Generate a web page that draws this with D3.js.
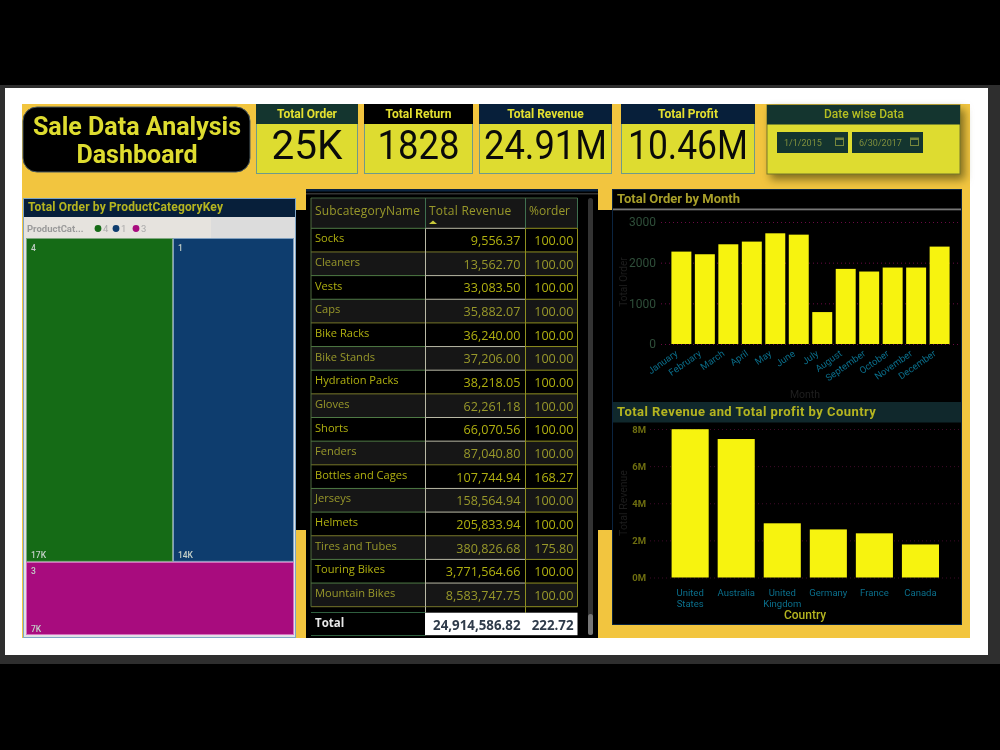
<!DOCTYPE html>
<html><head><meta charset="utf-8">
<script src="https://cdn.jsdelivr.net/npm/d3@7"></script>
<style>
html,body{margin:0;padding:0;background:#000;overflow:hidden}
svg{display:block;filter:blur(0.45px)}
text{font-family:Roboto,sans-serif}
.tb text{font-family:"Open Sans",sans-serif}
</style></head><body><div id="c"></div>
<script>
const kpiNames=["Total Order","Total Return","Total Revenue","Total Profit"];
const kpiValues=["25K","1828","24.91M","10.46M"];
const dates=["1/1/2015","6/30/2017"];
const catKeys=["4","1","3"];
const catOrders=[17000,14000,7000];
const catLabels=["17K","14K","7K"];
const tableCols=["SubcategoryName","Total Revenue","%order"];
const subNames=["Socks","Cleaners","Vests","Caps","Bike Racks","Bike Stands","Hydration Packs","Gloves","Shorts","Fenders","Bottles and Cages","Jerseys","Helmets","Tires and Tubes","Touring Bikes","Mountain Bikes"];
const subRevenue=[9556.37,13562.70,33083.50,35882.07,36240.00,37206.00,38218.05,62261.18,66070.56,87040.80,107744.94,158564.94,205833.94,380826.68,3771564.66,8583747.75];
const subOrder=[100,100,100,100,100,100,100,100,100,100,168.27,100,100,175.80,100,100];
const totalRow=["Total","24,914,586.82","222.72"];
const months=["January","February","March","April","May","June","July","August","September","October","November","December"];
const monthOrders=[2272,2207,2452,2518,2722,2689,785,1847,1782,1880,1880,2395];
const orderTicks=[0,1000,2000,3000];
const countries=["United States","Australia","United Kingdom","Germany","France","Canada"];
const countryRevenue=[7990000,7460000,2920000,2590000,2380000,1780000];
const revenueTicks=[0,2e6,4e6,6e6,8e6];

const svg=d3.select("#c").append("svg").attr("width",1000).attr("height",750);
const rect=(g,x,y,w,h,f,s,sw)=>g.append("rect").attr("x",x).attr("y",y).attr("width",w).attr("height",h).attr("fill",f).attr("stroke",s||"none").attr("stroke-width",sw||0);
const text=(g,x,y,t,size,fill,opt={})=>g.append("text").attr("x",x).attr("y",y).text(t).attr("font-size",size).attr("fill",fill)
  .attr("font-weight",opt.w||400).attr("text-anchor",opt.a||"start").attr("letter-spacing",opt.ls||null);

// page frame
rect(svg,0,0,1000,750,"#000");
rect(svg,0,85,1000,579,"#2e2e2e");
rect(svg,5,88,983,567,"#fff");
rect(svg,22,104,948,534,"#f2c53f");
rect(svg,296,210,316,320,"#000");

// title
svg.append("rect").attr("x",23).attr("y",107).attr("width",227).attr("height",65).attr("rx",14).attr("fill","#000").attr("stroke","#4a5a60");
text(svg,137,135,"Sale Data Analysis",25,"#dedc30",{a:"middle",w:700});
text(svg,137,163,"Dashboard",25,"#dedc30",{a:"middle",w:700});

// KPI cards
const kpiX=[[256,358],[364,473],[479,612],[621,755]];
const kpiHead=["#14352f","#000","#071f3a","#071f3a"];
const kpiTextW=[71,82,123,120];
kpiNames.forEach((n,i)=>{
  const [a,b]=kpiX[i];
  rect(svg,a+.5,104.5,b-a-1,69,"#dedc30","#6f9a8a",1);
  rect(svg,a,104,b-a,20,kpiHead[i]);
  text(svg,(a+b)/2,118,n,12,"#e4e030",{a:"middle",w:700});
  text(svg,(a+b)/2,159,kpiValues[i],41,"#0a0a0a",{a:"middle"})
    .attr("textLength",kpiTextW[i]).attr("lengthAdjust","spacingAndGlyphs");
});

// date card
const dg=svg.append("g");
dg.append("rect").attr("x",767).attr("y",105).attr("width",193).attr("height",69).attr("fill","#dedc30").attr("stroke","#77772a")
  .style("filter","drop-shadow(4px 5px 4px rgba(90,80,20,.75))");
rect(dg,767,105,193,19.5,"#14352f");
text(dg,864,118,"Date wise Data",12,"#b6bf22",{a:"middle",w:500});
[[777,71],[852,71]].forEach(([x,w],i)=>{
  rect(dg,x,132,w,21,"#14352f");
  text(dg,x+7,145.5,dates[i],9,"#7f8f3c");
  rect(dg,x+58.5,138,8,7.5,"none","#77873c",1);
  rect(dg,x+58.5,138,8,2,"#77873c");
});

// treemap panel
const tp=svg.append("g");
rect(tp,23.5,198.5,272,439,"#dfe3e6","#7fa5c5",1);
rect(tp,24,199,271,18,"#071f3a");
text(tp,28,211,"Total Order by ProductCategoryKey",12,"#b5b520",{w:700,ls:0.15});
rect(tp,24,217,187,21,"#e6e3de");
rect(tp,211,217,84,21,"#dcdcdc");
text(tp,27,232,"ProductCat...",9.5,"#9a9a9a",{w:700});
const catColors=["#156b16","#0e3d6e","#a80c7e"];
const catStrokes=["#7fa87f","#7f9fbf","#d870c0"];
const legendX=[98,116,136];
catKeys.forEach((k,i)=>{
  tp.append("circle").attr("cx",legendX[i]).attr("cy",228.5).attr("r",3.4).attr("fill",catColors[i]);
  text(tp,legendX[i]+5,232,k,9.5,"#aaa");
});
const root=d3.hierarchy({children:[{children:[0,1].map(i=>({i,v:catOrders[i]}))},{i:2,v:catOrders[2]}]}).sum(d=>d.v||0);
d3.treemap().size([267,396]).paddingInner(1).round(false)
  .tile((n,x0,y0,x1,y1)=>(n.depth&1?d3.treemapDice:d3.treemapSlice)(n,x0,y0,x1,y1))(root);
const tg=tp.append("g").attr("transform","translate(26.5,238.5)");
root.leaves().forEach(l=>{
  const i=l.data.i;
  rect(tg,l.x0,l.y0,l.x1-l.x0,l.y1-l.y0,catColors[i],catStrokes[i],1);
  text(tg,l.x0+4.5,l.y0+12,catKeys[i],8.5,"#c4d0c8",{w:500});
  text(tg,l.x0+4.5,l.y1-3,catLabels[i],8.5,"#c4d0c8",{w:500});
});

// table panel
const tb=svg.append("g").attr("class","tb");
rect(tb,306,189,292,449,"#000");
rect(tb,306,189,292,2.5,"#0b2440");
rect(tb,306,193,292,1.5,"#333");
const colX=[311,425.5,525.5,577.5];
const rowH=23.65,rowTop=228.3;
const fmt=d3.format(",.2f");
rect(tb,311,198,266.5,30.3,"#161616");
const headCol="#98982a";
text(tb,315,215,tableCols[0],12,headCol,{ls:0.15});
text(tb,429,215,tableCols[1],12,headCol,{ls:0.25});
text(tb,529,215,tableCols[2],12,headCol);
tb.append("path").attr("d",d3.line()([[429,224],[433,220.5],[437,224]])+"Z").attr("fill","#c8c83a");
subNames.forEach((n,i)=>{
  const y=rowTop+i*rowH,odd=i%2==0;
  rect(tb,311,y,266.5,rowH,odd?"#000":"#161616");
  const c=odd?"#b0b010":"#98982a";
  text(tb,315,y+14,n,11.1,c,{w:500});
  text(tb,520.5,y+16.8,fmt(subRevenue[i]),12.6,c,{a:"end"});
  text(tb,573.5,y+16.8,fmt(subOrder[i]),12.6,c,{a:"end"});
});
const hLine=(x1,x2,y,c,w)=>tb.append("line").attr("x1",x1).attr("x2",x2).attr("y1",y).attr("y2",y).attr("stroke",c).attr("stroke-width",w||1);
const vLine=(x,y1,y2,c,w)=>tb.append("line").attr("x1",x).attr("x2",x).attr("y1",y1).attr("y2",y2).attr("stroke",c).attr("stroke-width",w||1);
d3.range(0,17).forEach(i=>{
  const y=rowTop+i*rowH;
  hLine(colX[0],colX[1],y,i%3==1?"#77772a":"#4f7a45");
  hLine(colX[1],colX[2],y,i%3==1?"#77772a":"#b9b9a5");
  hLine(colX[2],colX[3],y,"#8f8f20");
});
hLine(311,577.5,198,"#3f5f3f");
vLine(311,198,606.7,"#4f6a3f");
vLine(colX[1],198,228,"#3f6f4f");vLine(colX[2],198,228,"#3f6f4f");vLine(colX[3],198,228,"#3f6f4f");
vLine(colX[1],228.3,606.7,"#b9b9a5");
vLine(colX[2],228.3,606.7,"#8f8f20");
vLine(colX[3],228.3,606.7,"#8f8f20");
vLine(colX[1],606.7,612.7,"#b9b9a5");vLine(colX[2],606.7,612.7,"#8f8f20");
hLine(311,colX[1],612.5,"#2f5f3f");hLine(311,colX[1],635.5,"#2f5f3f");
rect(tb,425,612.7,152.5,22.5,"#fff");
text(tb,315,627,totalRow[0],11.5,"#e8e8e8",{w:700});
text(tb,520.5,630,totalRow[1],13.3,"#2f3b4a",{a:"end",w:700});
text(tb,573.5,630,totalRow[2],13.3,"#2f3b4a",{a:"end",w:700});
tb.append("rect").attr("x",588).attr("y",198).attr("width",5).attr("height",437).attr("rx",2.5).attr("fill","#333");
tb.append("rect").attr("x",588).attr("y",614).attr("width",5).attr("height",21).attr("rx",2.5).attr("fill","#777");

// Total Order by Month
const c1=svg.append("g");
rect(c1,612.5,189.5,349,213,"#000","#0b2440",1);
text(c1,617,203,"Total Order by Month",13,"#a89f2a",{w:700});
rect(c1,613,208.5,348,1.8,"#777");
const x1=d3.scaleBand().domain(months).range([670,951]).paddingInner(0.15).paddingOuter(0.06);
const y1=d3.scaleLinear().domain([0,3000]).range([344,222]);
const g1=c1.append("g").attr("transform","translate(661,0)");
g1.call(d3.axisLeft(y1).tickValues(orderTicks).tickFormat(d3.format("d")).tickSize(-297).tickPadding(5));
g1.select(".domain").remove();
g1.selectAll("line").attr("stroke","#6a0a44").attr("stroke-dasharray","1 3");
g1.selectAll("text").attr("fill","#2f4f3a").attr("font-size",12);
c1.selectAll("rect.b").data(months).join("rect").attr("class","b").attr("x",d=>x1(d)).attr("width",x1.bandwidth())
  .attr("y",(d,i)=>y1(monthOrders[i])).attr("height",(d,i)=>y1(0)-y1(monthOrders[i])).attr("fill","#f7f30f");
const a1=c1.append("g").attr("transform","translate(0,344)").call(d3.axisBottom(x1).tickSize(0).tickPadding(0));
a1.select(".domain").remove();
a1.selectAll("text").attr("fill","#0a6f8c").attr("font-size",9.5).attr("text-anchor","end").attr("y",0).attr("dy",null)
  .attr("transform","translate(-3,11) rotate(-35)");
c1.append("text").attr("transform","translate(627,282) rotate(-90)").attr("text-anchor","middle").attr("font-size",10).attr("fill","#1d1d1d").text("Total Order");
text(c1,805,398,"Month",10.5,"#1f1f1f",{a:"middle"});

// Total Revenue and Total profit by Country
const c2=svg.append("g");
rect(c2,612.5,402.5,349,222,"#000","#0b2440",1);
rect(c2,613,402,348,20.5,"#10282c");
text(c2,617,416,"Total Revenue and Total profit by Country",13,"#b5b520",{w:700,ls:0.45});
const x2=d3.scaleBand().domain(countries).range([667,943.6]).paddingInner(0.195).paddingOuter(0.1);
const y2=d3.scaleLinear().domain([0,8e6]).range([577.5,429]);
const g2=c2.append("g").attr("transform","translate(650,0)");
g2.call(d3.axisLeft(y2).tickValues(revenueTicks).tickFormat(d=>d/1e6+"M").tickSize(-310).tickPadding(4));
g2.select(".domain").remove();
g2.selectAll("line").attr("stroke","#3f0a28").attr("stroke-dasharray","1 3");
g2.selectAll("text").attr("fill","#6e6e10").attr("font-size",9.5).attr("font-weight",700);
c2.selectAll("rect.b").data(countries).join("rect").attr("class","b").attr("x",d=>x2(d)).attr("width",x2.bandwidth())
  .attr("y",(d,i)=>y2(countryRevenue[i])).attr("height",(d,i)=>y2(0)-y2(countryRevenue[i])).attr("fill","#f7f30f");
const a2=c2.append("g").attr("transform","translate(0,577.5)").call(d3.axisBottom(x2).tickSize(0).tickPadding(0));
a2.select(".domain").remove();
a2.selectAll("text").attr("fill","#0a6f8c").attr("font-size",9.5).each(function(d){
  const t=d3.select(this),w=d.split(" ");t.text(null).attr("dy",null);
  const wrap=w.length>1;
  (wrap?w:[d]).forEach((s,i)=>t.append("tspan").attr("x",0).attr("y",18+i*11.5).text(s));
});
c2.append("text").attr("transform","translate(627,503) rotate(-90)").attr("text-anchor","middle").attr("font-size",10.5).attr("fill","#1d1d1d").text("Total Revenue");
text(c2,805,619,"Country",12,"#b5b520",{a:"middle",w:500});
</script></body></html>
